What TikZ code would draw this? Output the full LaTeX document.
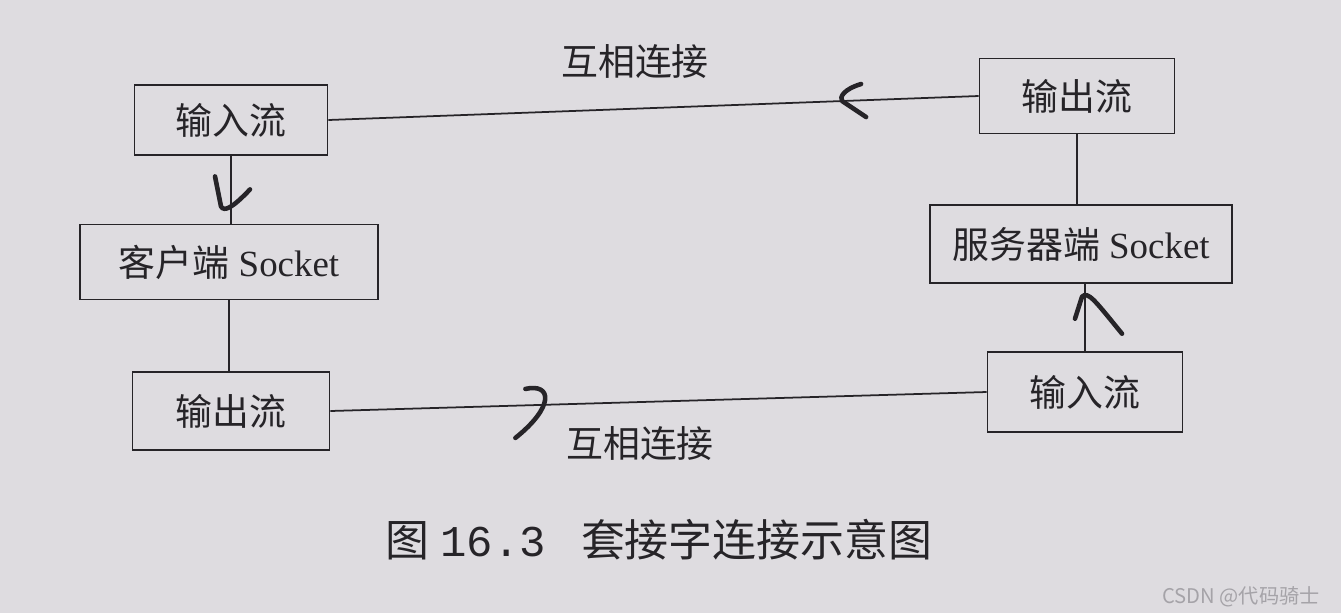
\documentclass[tikz,border=0pt]{standalone}
\usepackage{fontspec}
\setmainfont{Liberation Serif}
\newfontfamily\cjk{Noto Sans CJK SC}
\newfontfamily\chiffres{Liberation Mono}
\definecolor{papier}{RGB}{222,220,224}
\definecolor{encre}{RGB}{38,36,40}
\definecolor{filigrane}{RGB}{165,163,168}
\tikzset{
  boite/.style={draw=encre, line width=1pt, inner sep=0pt, text=encre,
    font=\fontsize{21}{25}\selectfont},
  trait/.style={draw=encre, line width=1pt},
  trace/.style={draw=encre, line width=2.6pt, line cap=round, line join=round},
}
\begin{document}
\begin{tikzpicture}[x=0.02cm, y=-0.02cm]
    % Fond
    \fill[papier] (0, 0) rectangle (1341, 613);
    \useasboundingbox (0, 0) rectangle (1341, 613);

    % Cote client
    \node[boite, minimum width=3.86cm, minimum height=1.4cm] (entreeG) at (231, 120) {\cjk 输入流};
    \node[boite, minimum width=5.96cm, minimum height=1.5cm] (client) at (229, 262) {{\cjk 客户端} Socket};
    \node[boite, minimum width=3.94cm, minimum height=1.56cm] (sortieG) at (231, 411) {\cjk 输出流};

    % Cote serveur
    \node[boite, minimum width=3.9cm, minimum height=1.5cm] (sortieD) at (1077, 96) {\cjk 输出流};
    \node[boite, minimum width=6.04cm, minimum height=1.56cm] (serveur) at (1081, 244) {{\cjk 服务器端} Socket};
    \node[boite, minimum width=3.9cm, minimum height=1.6cm] (entreeD) at (1085, 392) {\cjk 输入流};

    % Liaisons
    \draw[trait] (entreeG.east) -- (sortieD.west) coordinate[pos=0.79] (hautM);
    \draw[trait] (sortieG.east) -- (entreeD.west) coordinate[pos=0.32] (basM);
    \draw[trait] (entreeG.south) -- (entreeG.south |- client.north) coordinate[pos=0.79] (gaucheM);
    \draw[trait] (client.south) -- (client.south |- sortieG.north);
    \draw[trait] (sortieD.south) -- (sortieD.south |- serveur.north);
    \draw[trait] (entreeD.north) -- (entreeD.north |- serveur.south) coordinate[pos=0.75] (droiteM);

    % Fleches a la main
    \begin{scope}[shift={(hautM)}]
      \draw[trace] (19, -17) .. controls (2, -12) and (-3, -4) .. (0, 0) -- (24, 16);
    \end{scope}
    \begin{scope}[shift={(gaucheM)}]
      \draw[trace] (-16, -33) -- (-10, -3) .. controls (-7, 3) and (2, -2) .. (19, -20);
    \end{scope}
    \begin{scope}[shift={(droiteM)}]
      \draw[trace] (-10, 18) -- (-3, -4) .. controls (3, -10) and (10, 0) .. (37, 33);
    \end{scope}
    \begin{scope}[shift={(basM)}]
      \draw[trace] (-15, -16) .. controls (12, -22) and (14, 2) .. (-25, 33);
    \end{scope}

    % Etiquettes
    \node[text=encre, font=\fontsize{21}{25}\selectfont\cjk] (etiqH) at (635, 62) {互相连接};
    \node[text=encre, font=\fontsize{21}{25}\selectfont\cjk] (etiqB) at (640, 444) {互相连接};

    % Legende
    \node[text=encre, font=\fontsize{25}{29}\selectfont] (legende) at (659, 540)
    {{\cjk 图} {\chiffres 16.3}\hspace{0.8em}{\cjk 套接字连接示意图}};
    \node[text=filigrane, font=\fontsize{11.5}{14}\selectfont\cjk, anchor=east] (marque) at (1326, 597)
    {CSDN @代码骑士};
  \end{tikzpicture}
\end{document}
